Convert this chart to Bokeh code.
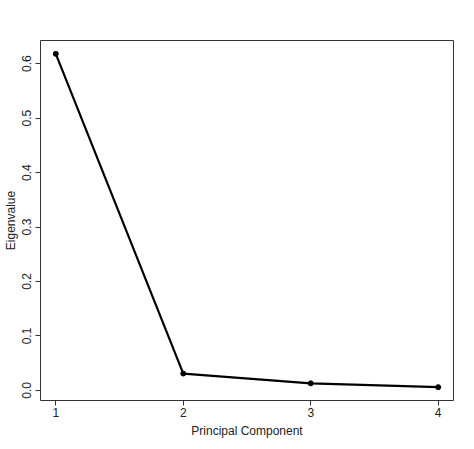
import math
from bokeh.plotting import figure
from bokeh.models import FixedTicker, Range1d
from bokeh.embed import file_html
from bokeh.resources import INLINE

components = [1, 2, 3, 4]
eigenvalues = [0.618, 0.031, 0.013, 0.006]
y_ticks = [0.0, 0.1, 0.2, 0.3, 0.4, 0.5, 0.6]
y_tick_labels = ["0.0", "0.1", "0.2", "0.3", "0.4", "0.5", "0.6"]

FONT = "Liberation Sans"
X_START, X_END = 0.88, 4.12

p = figure(width=466, height=441, output_backend="svg", toolbar_location=None,
           x_range=Range1d(X_START, X_END), y_range=Range1d(-0.0185, 0.6425),
           min_border_left=39, min_border_right=13, min_border_top=40, min_border_bottom=41)
p.background_fill_color = "white"
p.border_fill_color = "white"
p.outline_line_color = "#333333"
p.outline_line_width = 1
p.grid.visible = False

p.line(components, eigenvalues, line_color="black", line_width=2.2)
p.scatter(components, eigenvalues, size=5, color="black")

for ax in (p.xaxis[0], p.yaxis[0]):
    ax.axis_line_color = None
    ax.major_tick_in = 0
    ax.major_tick_out = 5
    ax.major_tick_line_color = "#333333"
    ax.minor_tick_line_color = None
    ax.major_label_text_font = FONT
    ax.major_label_text_font_size = "12px"
    ax.major_label_text_color = "#222222"
    ax.axis_label_text_font = FONT
    ax.axis_label_text_font_size = "12px"
    ax.axis_label_text_font_style = "normal"
    ax.axis_label_text_color = "#222222"

p.xaxis[0].ticker = FixedTicker(ticks=components)
p.xaxis[0].axis_label = "Principal Component"
p.xaxis[0].major_label_standoff = 2
p.xaxis[0].axis_label_standoff = 4

p.yaxis[0].ticker = FixedTicker(ticks=y_ticks)
p.yaxis[0].major_label_overrides = {t: l for t, l in zip(y_ticks, y_tick_labels)}
p.yaxis[0].major_label_orientation = "parallel"
p.yaxis[0].major_label_standoff = 4
p.yaxis[0].axis_label = "Eigenvalue"
p.yaxis[0].axis_label_standoff = 2

open("out.html", "w").write(file_html(p, INLINE))
